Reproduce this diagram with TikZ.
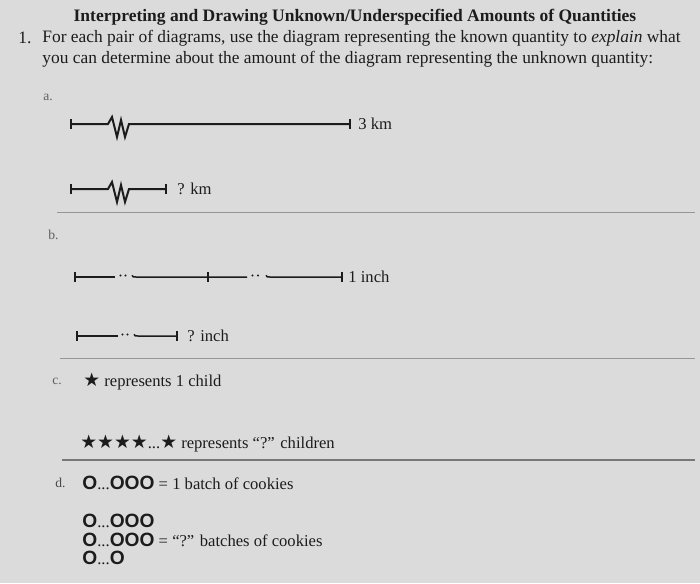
\documentclass[tikz,border=0pt]{standalone}
\usepackage{fontspec}
\setmainfont{Liberation Serif}
\newfontfamily\starfont{DejaVu Sans}
\newfontfamily\cookiefont{Liberation Sans}
\usepackage{tikz}
\usetikzlibrary{positioning}
\definecolor{paper}{RGB}{219,219,219}
\definecolor{ink}{RGB}{28,28,28}
\definecolor{rulegray}{RGB}{150,150,150}
\definecolor{labelgray}{RGB}{95,95,95}

\newcommand{\cookie}{{\cookiefont\fontsize{9.6}{10}\selectfont\bfseries O}}
\newcommand{\kid}{{\starfont\fontsize{9.4}{10}\selectfont ★}}

\begin{document}
\begin{tikzpicture}[
    x=0.5pt, y=-0.5pt,
    txt/.style={anchor=west, inner sep=0pt, text=ink, font=\fontsize{8.3}{10}\selectfont},
    head/.style={txt, font=\fontsize{8.7}{10}\selectfont},
    part/.style={anchor=west, inner sep=0pt, text=labelgray, font=\fontsize{6.8}{8}\selectfont},
    bar/.style={draw=ink, line width=1pt, line join=miter},
    thinbar/.style={draw=ink, line width=0.75pt},
    sep/.style={draw=rulegray, line width=0.5pt}
]
    % Sheet
    \fill[paper] (0,0) rectangle (700,583);
    \useasboundingbox (0,0) rectangle (700,583);

    % Heading and task
    \node[head, anchor=center, font=\fontsize{8.75}{10}\selectfont\bfseries] (title) at (355,17) {Interpreting and Drawing Unknown/Underspecified Amounts of Quantities};
    \node[head] (num) at (18,38) {1.};
    \node[head] (task1) at (42,38) {For each pair of diagrams, use the diagram representing the known quantity to \textit{explain} what};
    \node[head] (task2) at (42,59) {you can determine about the amount of the diagram representing the unknown quantity:};

    % a. broken lines in km
    \node[part] (pa) at (43,97) {a.};
    \draw[bar] (71,124) -- (108,124) -- (112,117) -- (117,137) -- (121,120) -- (125,137) -- (129,124) -- (350,124);
    \draw[bar] (71,119) -- (71,129);
    \draw[bar] (350,119) -- (350,129);
    \node[txt] (km) at (358,124) {3 km};
    \draw[bar] (71,189) -- (108,189) -- (112,182) -- (117,202) -- (121,185) -- (125,202) -- (129,189) -- (166,189);
    \draw[bar] (71,184) -- (71,194);
    \draw[bar] (166,184) -- (166,194);
    \node[txt] (qkm) at (177,189) {? km};
    \draw[sep] (57,212) -- (695,212);

    % b. dotted lines in inches
    \node[part] (pb) at (48,235) {b.};
    \draw[thinbar] (75,277) -- (115,277);
    \fill[ink] (120.5,275.5) circle (1.1) (125.5,275.5) circle (1.1);
    \draw[thinbar] (132,275.3) .. controls (133,277) .. (136,277) -- (247,277);
    \fill[ink] (252.5,275.5) circle (1.1) (258,275.5) circle (1.1);
    \draw[thinbar] (266,275.3) .. controls (267,277) .. (270,277) -- (342,277);
    \draw[thinbar] (75,272) -- (75,282);
    \draw[thinbar] (208,272) -- (208,282);
    \draw[thinbar] (342,272) -- (342,282);
    \node[txt] (inch) at (348,277) {1 inch};
    \draw[thinbar] (77,336) -- (118,336);
    \fill[ink] (122.5,334.5) circle (1.1) (127.5,334.5) circle (1.1);
    \draw[thinbar] (134,334.3) .. controls (135,336) .. (138,336) -- (177,336);
    \draw[thinbar] (77,331) -- (77,341);
    \draw[thinbar] (177,331) -- (177,341);
    \node[txt] (qinch) at (187,336) {? inch};
    \draw[sep] (60,358) -- (695,358);

    % c. stars for children
    \node[part] (pc) at (52,381) {c.};
    \node[txt] (child) at (83,381) {\kid\ represents 1 child};
    \node[txt] (children) at (80,443) {\kid\kid\kid\kid...\kid\ represents “?” children};
    \draw[sep, draw=rulegray!80!black, line width=1pt] (62,460) -- (695,460);

    % d. rings for cookies
    \node[part, text=ink!80] (pd) at (55,483) {d.};
    \node[txt] (batch) at (82,483) {\cookie...\cookie\cookie\cookie\ = 1 batch of cookies};
    \node[txt] (row1) at (82,521) {\cookie...\cookie\cookie\cookie};
    \node[txt] (row2) at (82,540) {\cookie...\cookie\cookie\cookie\ = “?” batches of cookies};
    \node[txt] (row3) at (82,558) {\cookie...\cookie};
\end{tikzpicture}
\end{document}
